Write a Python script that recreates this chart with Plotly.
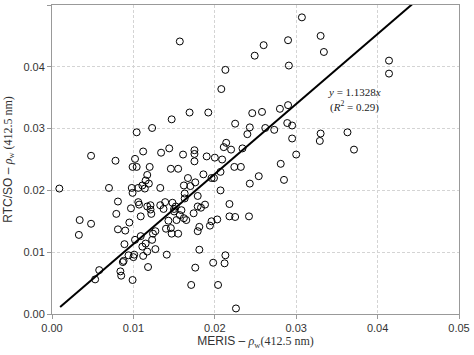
import plotly.graph_objects as go

meris = [0.0009, 0.0034, 0.0033, 0.0048, 0.0048, 0.0053, 0.0058, 0.0070, 0.0078, 0.0079,
         0.0081, 0.0081, 0.0084, 0.0085, 0.0087, 0.0088, 0.0090, 0.0089, 0.0095, 0.0094,
         0.0097, 0.0098, 0.0099, 0.0099, 0.0102, 0.0104, 0.0099, 0.0100, 0.0101, 0.0102,
         0.0104, 0.0106, 0.0106, 0.0107, 0.0109, 0.0109, 0.0111, 0.0112, 0.0112, 0.0111,
         0.0114, 0.0115, 0.0117, 0.0117, 0.0117, 0.0115, 0.0118, 0.0119, 0.0120, 0.0121,
         0.0121, 0.0122, 0.0123, 0.0123, 0.0124, 0.0127, 0.0127, 0.0133, 0.0134, 0.0133,
         0.0137, 0.0139, 0.0140, 0.0141, 0.0143, 0.0144, 0.0146, 0.0147, 0.0146, 0.0147,
         0.0148, 0.0150, 0.0150, 0.0152, 0.0153, 0.0155, 0.0155, 0.0157, 0.0157, 0.0159,
         0.0161, 0.0162, 0.0163, 0.0163, 0.0162, 0.0165, 0.0167, 0.0169, 0.0170, 0.0171,
         0.0174, 0.0175, 0.0175, 0.0175, 0.0176, 0.0176, 0.0179, 0.0179, 0.0179, 0.0181,
         0.0181, 0.0183, 0.0186, 0.0188, 0.0190, 0.0192, 0.0194, 0.0196, 0.0196, 0.0199,
         0.0198, 0.0200, 0.0203, 0.0204, 0.0207, 0.0207, 0.0208, 0.0209, 0.0211, 0.0212,
         0.0213, 0.0213, 0.0214, 0.0218, 0.0218, 0.0220, 0.0224, 0.0225, 0.0225, 0.0226,
         0.0232, 0.0234, 0.0240, 0.0242, 0.0243, 0.0243, 0.0246, 0.0249, 0.0254, 0.0258,
         0.0260, 0.0262, 0.0273, 0.0280, 0.0281, 0.0285, 0.0289, 0.0290, 0.0290, 0.0291,
         0.0295, 0.0295, 0.0300, 0.0307, 0.0329, 0.0330, 0.0330, 0.0334, 0.0363, 0.0371,
         0.0414, 0.0414]
rtcso = [0.0203, 0.0152, 0.0128, 0.0256, 0.0146, 0.0056, 0.0071, 0.0204, 0.0248, 0.0162,
         0.0182, 0.0137, 0.0069, 0.0062, 0.0084, 0.0086, 0.0135, 0.0113, 0.0148, 0.0095,
         0.0171, 0.0204, 0.0196, 0.0238, 0.0251, 0.0238, 0.0055, 0.0092, 0.0096, 0.0120,
         0.0294, 0.0204, 0.0181, 0.0177, 0.0158, 0.0126, 0.0109, 0.0094, 0.0263, 0.0208,
         0.0203, 0.0216, 0.0225, 0.0174, 0.0101, 0.0114, 0.0076, 0.0211, 0.0238, 0.0176,
         0.0169, 0.0162, 0.0301, 0.0120, 0.0130, 0.0134, 0.0105, 0.0204, 0.0261, 0.0176,
         0.0170, 0.0181, 0.0138, 0.0096, 0.0151, 0.0268, 0.0235, 0.0315, 0.0139, 0.0130,
         0.0180, 0.0170, 0.0166, 0.0174, 0.0152, 0.0235, 0.0130, 0.0441, 0.0160, 0.0168,
         0.0258, 0.0208, 0.0195, 0.0187, 0.0155, 0.0152, 0.0220, 0.0326, 0.0207, 0.0047,
         0.0163, 0.0265, 0.0259, 0.0247, 0.0213, 0.0075, 0.0191, 0.0174, 0.0134, 0.0141,
         0.0104, 0.0172, 0.0226, 0.0177, 0.0255, 0.0326, 0.0143, 0.0150, 0.0220, 0.0220,
         0.0083, 0.0253, 0.0153, 0.0047, 0.0200, 0.0230, 0.0364, 0.0250, 0.0270, 0.0082,
         0.0095, 0.0395, 0.0277, 0.0178, 0.0158, 0.0266, 0.0238, 0.0157, 0.0308, 0.0009,
         0.0238, 0.0268, 0.0291, 0.0158, 0.0302, 0.0211, 0.0325, 0.0418, 0.0223, 0.0327,
         0.0435, 0.0301, 0.0298, 0.0332, 0.0243, 0.0217, 0.0309, 0.0338, 0.0443, 0.0402,
         0.0305, 0.0284, 0.0258, 0.0480, 0.0280, 0.0450, 0.0292, 0.0424, 0.0294, 0.0266,
         0.0410, 0.0389]

slope = 1.1328
r2 = 0.29
fit_x = [0.001, 0.0445]
fit_y = [slope * v for v in fit_x]

tickvals = [0.0, 0.01, 0.02, 0.03, 0.04, 0.05]
ticktext = ["0.00", "0.01", "0.02", "0.03", "0.04", "0.05"]

serif = "Liberation Serif, Times New Roman, serif"
sans = "Liberation Sans, Arial, sans-serif"

fig = go.Figure()
fig.add_trace(go.Scatter(
    x=meris, y=rtcso, mode="markers",
    marker=dict(symbol="circle-open", size=7, color="black", line=dict(width=1, color="black")),
    showlegend=False, cliponaxis=False,
))
fig.add_trace(go.Scatter(
    x=fit_x, y=fit_y, mode="lines",
    line=dict(color="black", width=2), showlegend=False,
))

fig.add_annotation(
    x=0.0372, y=0.0360, xref="x", yref="y", showarrow=False,
    text=f"<i>y</i> = {slope}<i>x</i>",
    font=dict(family=serif, size=11, color="#222"),
)
fig.add_annotation(
    x=0.0372, y=0.0335, xref="x", yref="y", showarrow=False,
    text=f"(<i>R</i><sup>2</sup> = {r2})",
    font=dict(family=serif, size=11, color="#222"),
)

axis_common = dict(
    range=[0, 0.05], tickvals=tickvals, ticktext=ticktext,
    showgrid=True, gridcolor="#d4d4d4", griddash="3px,2px", gridwidth=1,
    showline=True, linecolor="#999", linewidth=1, mirror=True,
    ticks="outside", ticklen=4, tickcolor="#999",
    tickfont=dict(family=sans, size=11, color="#333"),
    zeroline=False,
)

fig.update_layout(
    width=474, height=355,
    margin=dict(l=52, r=11, t=4, b=41),
    paper_bgcolor="white", plot_bgcolor="white",
    xaxis=dict(**axis_common,
               title=dict(text=f"MERIS – <span style='font-family:{serif}'><i>ρ</i><sub>w</sub>(412.5 nm)</span>",
                          font=dict(family=sans, size=12, color="#333"), standoff=2)),
    yaxis=dict(**axis_common,
               title=dict(text=f"RTC/SO – <span style='font-family:{serif}'><i>ρ</i><sub>w</sub> (412.5 nm)</span>",
                          font=dict(family=sans, size=12, color="#333"), standoff=8)),
)

fig.write_html("out.html", config={"displayModeBar": False},
               post_script="document.body.style.margin='0';document.body.style.overflow='hidden';")
